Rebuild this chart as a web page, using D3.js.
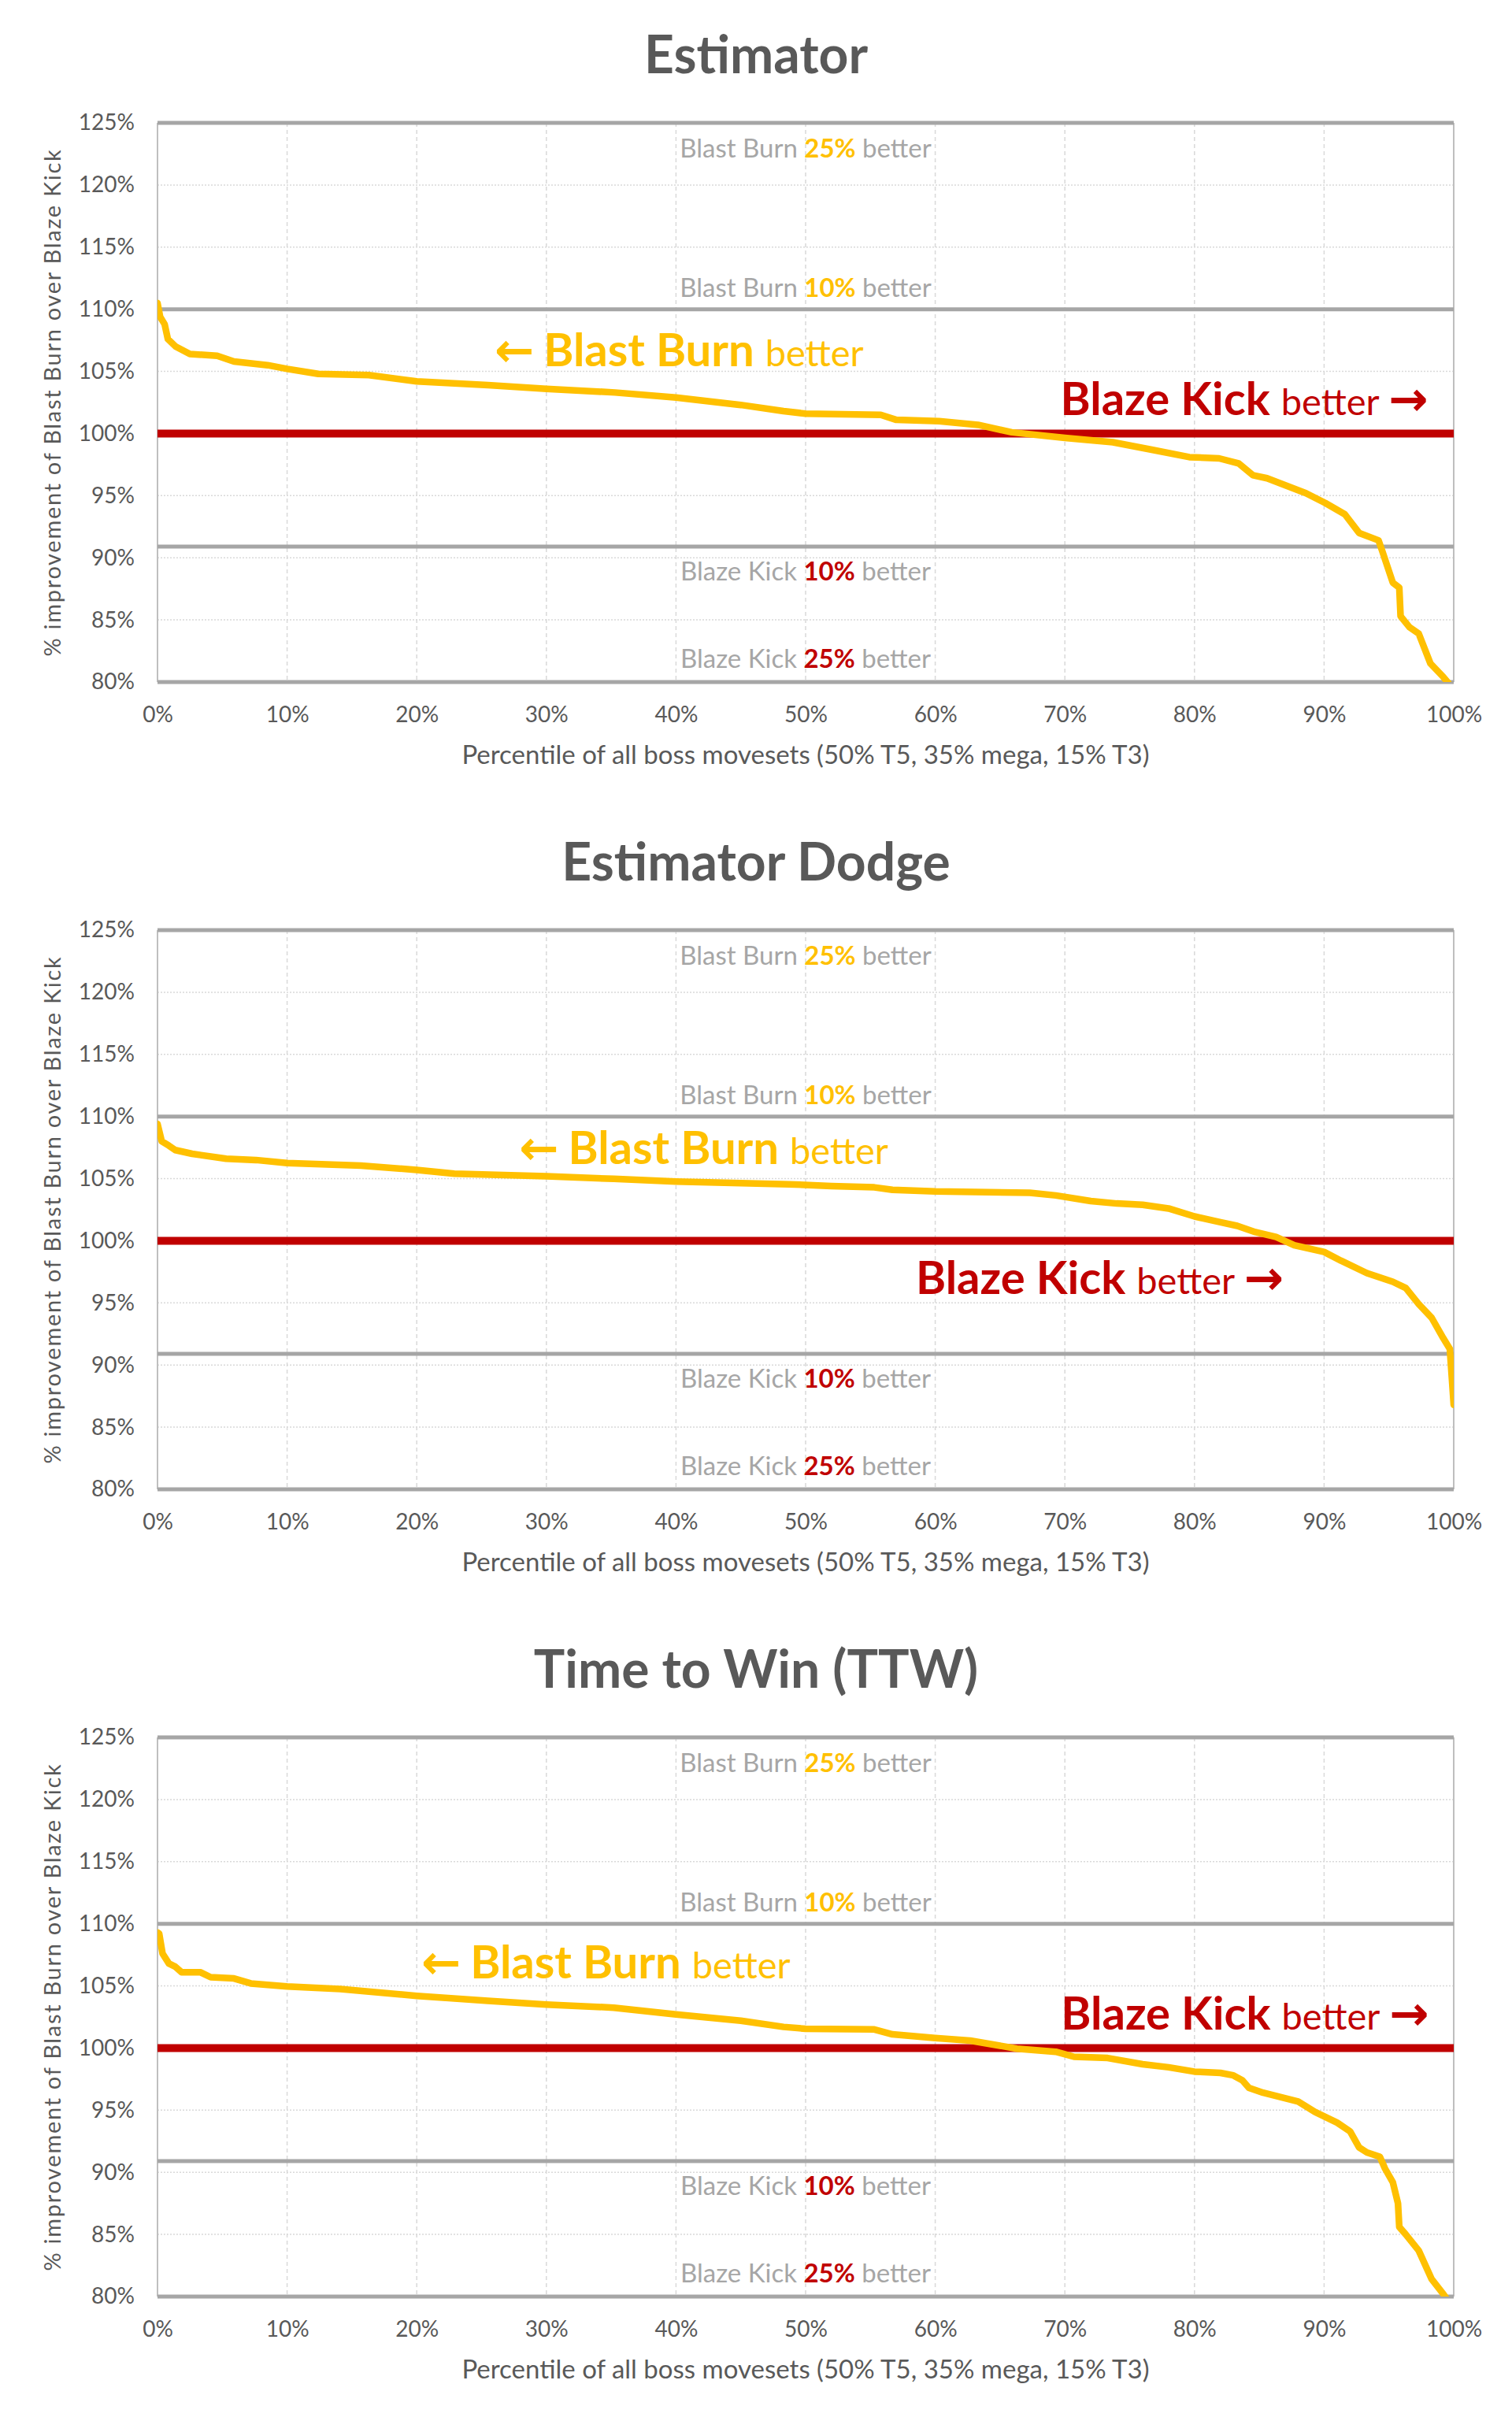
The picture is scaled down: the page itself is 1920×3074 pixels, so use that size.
<!DOCTYPE html>
<html>
<head>
<meta charset="utf-8">
<script src="https://cdn.jsdelivr.net/npm/d3@7"></script>
<style>
  html, body { margin: 0; padding: 0; background: #ffffff; }
  svg { display: block; }
  text { font-family: Lato, "Open Sans", sans-serif; }
</style>
</head>
<body>
<svg id="chart" width="1920" height="3074"></svg>
<script>
// ---------- DATA ----------
const titles = ["Estimator", "Estimator Dodge", "Time to Win (TTW)"];

const xTicks = [0, 10, 20, 30, 40, 50, 60, 70, 80, 90, 100];
const yTicks = [80, 85, 90, 95, 100, 105, 110, 115, 120, 125];
const yGridDotted = [85, 90, 95, 105, 115, 120];
const xGridDashed = [10, 20, 30, 40, 50, 60, 70, 80, 90];

const xAxisTitle = "Percentile of all boss movesets (50% T5, 35% mega, 15% T3)";
const yAxisTitle = "% improvement of Blast Burn over Blaze Kick";

// threshold lines (Blast Burn 25% / 10% better, Blaze Kick 10% / 25% better)
const grayLines = [125, 110, 100 / 1.1, 80];
const parityLine = 100;

// threshold labels
const thresholdLabels = [
  { pre: "Blast Burn ", pct: "25%", post: " better", who: "bb", v: 122.2 },
  { pre: "Blast Burn ", pct: "10%", post: " better", who: "bb", v: 111.0 },
  { pre: "Blaze Kick ", pct: "10%", post: " better", who: "bk", v: 88.2 },
  { pre: "Blaze Kick ", pct: "25%", post: " better", who: "bk", v: 81.15 }
];

// Estimator
const estimatorPct = [0, 0.2, 0.55, 0.8, 1.4, 2.5, 4.6, 5.9, 8.5, 10, 12.4, 16.3, 20, 25.5, 30, 35.3, 40, 45, 48.3, 50, 55.8, 57, 60.3, 63.3, 65.9, 70, 73.7, 76.7, 79.6, 81.9, 83.4, 84.5, 85.6, 87.1, 88.6, 90.1, 91.6, 92.7, 94.2, 94.5, 95.3, 95.8, 95.9, 96.6, 97.3, 98.2, 99.2, 99.6, 100];
const estimatorVal = [110.5, 109.4, 108.8, 107.6, 107.0, 106.4, 106.25, 105.8, 105.5, 105.2, 104.8, 104.7, 104.2, 103.9, 103.6, 103.3, 102.9, 102.3, 101.8, 101.6, 101.5, 101.1, 101.0, 100.7, 100.1, 99.65, 99.3, 98.7, 98.1, 98.0, 97.6, 96.65, 96.4, 95.8, 95.2, 94.4, 93.5, 92.0, 91.4, 90.5, 88.0, 87.6, 85.3, 84.4, 83.9, 81.5, 80.4, 79.9, 79.0];

// Estimator Dodge
const dodgePct = [0, 0.33, 0.88, 1.37, 2.67, 5.3, 7.6, 10, 15.7, 20, 22.9, 30, 35.2, 40, 48.7, 52, 55.3, 56.7, 60, 67.3, 69.3, 72, 74, 76, 78, 80, 82, 83.3, 84.7, 86.3, 87.7, 90, 91.3, 93.3, 95.3, 96.3, 97.3, 98.3, 99.2, 99.7, 100];
const dodgeVal = [109.4, 108.0, 107.65, 107.3, 107.0, 106.6, 106.5, 106.25, 106.05, 105.7, 105.4, 105.2, 104.98, 104.76, 104.55, 104.4, 104.3, 104.1, 103.97, 103.86, 103.65, 103.2, 103.0, 102.9, 102.6, 101.96, 101.5, 101.2, 100.7, 100.3, 99.64, 99.1, 98.4, 97.4, 96.7, 96.2, 94.9, 93.8, 92.15, 91.3, 86.8];

// Time to Win (TTW)
const ttwPct = [0, 0.13, 0.39, 0.88, 1.37, 1.86, 3.3, 4.1, 5.9, 7.2, 10, 14.1, 20, 25.5, 30, 35.2, 40, 45, 48.3, 50, 55.3, 56.7, 60, 62.7, 66.3, 69.3, 70.7, 73.3, 76, 78, 80, 82, 83, 83.7, 84.2, 85.3, 88, 89.3, 91, 92, 92.7, 93.3, 94.3, 94.7, 95.3, 95.7, 95.8, 96.3, 97.3, 98.3, 99.2, 99.6, 100];
const ttwVal = [109.3, 109.2, 107.6, 106.8, 106.55, 106.1, 106.1, 105.7, 105.6, 105.2, 104.95, 104.75, 104.2, 103.8, 103.5, 103.25, 102.7, 102.2, 101.7, 101.55, 101.5, 101.1, 100.8, 100.6, 99.95, 99.7, 99.3, 99.2, 98.7, 98.45, 98.1, 98.0, 97.8, 97.4, 96.8, 96.4, 95.7, 94.85, 94.0, 93.3, 92.0, 91.6, 91.25, 90.3, 89.2, 87.5, 85.6, 85.0, 83.7, 81.4, 80.2, 79.6, 79.0];

const seriesPct = [estimatorPct, dodgePct, ttwPct];
const seriesVal = [estimatorVal, dodgeVal, ttwVal];

// annotation anchors in data units (percentile, value)
const bbAnnot = [{ p: 26.0, v: 105.4 }, { p: 27.9, v: 106.2 }, { p: 20.35, v: 105.6 }];
const bkAnnot = [{ p: 98.05, v: 101.5 }, { p: 86.9, v: 95.7 }, { p: 98.1, v: 101.5 }];

// ---------- STYLE ----------
const YELLOW = "#ffc000", RED = "#c00000", GRAY = "#a6a6a6", DARK = "#595959", GRID = "#d9d9d9";
const PANEL_H = 1025;

const svg = d3.select("#chart");
const x = d3.scaleLinear().domain([0, 100]).range([200, 1846]);
const y = d3.scaleLinear().domain([80, 125]).range([866, 156]);

titles.forEach((title, i) => {
  const g = svg.append("g").attr("transform", `translate(0,${i * PANEL_H})`);

  const clipId = "clip" + i;
  g.append("clipPath").attr("id", clipId)
    .append("rect").attr("x", x(0)).attr("y", y(125) - 3)
    .attr("width", x(100) - x(0)).attr("height", y(80) - y(125) + 3);

  // title
  g.append("text").attr("x", 960).attr("y", 93)
    .attr("text-anchor", "middle").attr("font-size", 66).attr("font-weight", 700)
    .attr("fill", DARK).text(title);

  // gridlines
  g.selectAll(".vg").data(xGridDashed).join("line")
    .attr("x1", d => x(d)).attr("x2", d => x(d))
    .attr("y1", y(125)).attr("y2", y(80))
    .attr("stroke", GRID).attr("stroke-width", 1.5).attr("stroke-dasharray", "5,4");
  g.selectAll(".hg").data(yGridDotted).join("line")
    .attr("x1", x(0)).attr("x2", x(100))
    .attr("y1", d => y(d)).attr("y2", d => y(d))
    .attr("stroke", GRID).attr("stroke-width", 1.5).attr("stroke-dasharray", "2,2");

  // side borders
  [0, 100].forEach(p => {
    g.append("line").attr("x1", x(p)).attr("x2", x(p))
      .attr("y1", y(125)).attr("y2", y(80))
      .attr("stroke", "#bfbfbf").attr("stroke-width", 2);
  });

  // threshold lines
  g.selectAll(".tl").data(grayLines).join("line")
    .attr("x1", x(0)).attr("x2", x(100))
    .attr("y1", d => y(d)).attr("y2", d => y(d))
    .attr("stroke", GRAY).attr("stroke-width", 5);
  g.append("line").attr("x1", x(0)).attr("x2", x(100))
    .attr("y1", y(parityLine)).attr("y2", y(parityLine))
    .attr("stroke", RED).attr("stroke-width", 10);

  // threshold labels
  thresholdLabels.forEach(l => {
    const t = g.append("text").attr("x", x(50)).attr("y", y(l.v))
      .attr("text-anchor", "middle").attr("font-size", 33).attr("fill", GRAY);
    t.append("tspan").text(l.pre);
    t.append("tspan").attr("font-weight", 700).attr("fill", l.who === "bb" ? YELLOW : RED).text(l.pct);
    t.append("tspan").text(l.post);
  });

  // axes
  const ya = g.append("g").attr("transform", `translate(${x(0)},0)`)
    .call(d3.axisLeft(y).tickValues(yTicks).tickFormat(d => d + "%").tickSize(0).tickPadding(29));
  ya.select(".domain").remove();
  ya.selectAll("text").attr("font-family", "Lato, sans-serif").attr("font-size", 28).attr("fill", DARK);

  const xa = g.append("g").attr("transform", `translate(0,${y(80)})`)
    .call(d3.axisBottom(x).tickValues(xTicks).tickFormat(d => d + "%").tickSize(0).tickPadding(31));
  xa.select(".domain").remove();
  xa.selectAll("text").attr("font-family", "Lato, sans-serif").attr("font-size", 28).attr("fill", DARK);

  // axis titles
  g.append("text").attr("x", (x(0) + x(100)) / 2).attr("y", 970)
    .attr("text-anchor", "middle").attr("font-size", 33).attr("fill", DARK).text(xAxisTitle);
  g.append("text")
    .attr("transform", `translate(77,${(y(80) + y(125)) / 2}) rotate(-90)`)
    .attr("text-anchor", "middle").attr("font-family", "DejaVu Sans, sans-serif")
    .attr("font-size", 29).attr("letter-spacing", 1.7).attr("fill", DARK).text(yAxisTitle);

  // annotations
  const bb = bbAnnot[i];
  const t1 = g.append("text").attr("x", x(bb.p)).attr("y", y(bb.v))
    .attr("fill", YELLOW).attr("font-size", 58);
  t1.append("tspan").attr("font-family", "DejaVu Sans, sans-serif").attr("font-weight", 700)
    .attr("font-size", 60).text("\u2190");
  t1.append("tspan").attr("font-weight", 700).attr("dx", 12).text("Blast Burn");
  t1.append("tspan").attr("font-size", 47).attr("dx", 14).text("better");

  const bk = bkAnnot[i];
  const t2 = g.append("text").attr("x", x(bk.p)).attr("y", y(bk.v))
    .attr("text-anchor", "end").attr("fill", RED).attr("font-size", 58);
  t2.append("tspan").attr("font-weight", 700).text("Blaze Kick");
  t2.append("tspan").attr("font-size", 47).attr("dx", 14).text("better");
  t2.append("tspan").attr("font-family", "DejaVu Sans, sans-serif").attr("font-weight", 700)
    .attr("font-size", 60).attr("dx", 12).text("\u2192");

  // the curve
  const pts = seriesPct[i].map((p, k) => [p, seriesVal[i][k]]);
  g.append("path").datum(pts)
    .attr("clip-path", `url(#${clipId})`)
    .attr("fill", "none").attr("stroke", YELLOW).attr("stroke-width", 8.5)
    .attr("stroke-linejoin", "round").attr("stroke-linecap", "round")
    .attr("d", d3.line().x(d => x(d[0])).y(d => y(d[1])));
});
</script>
</body>
</html>
